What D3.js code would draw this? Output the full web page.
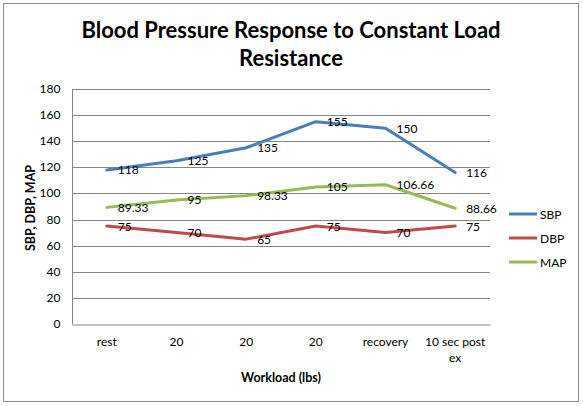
<!DOCTYPE html>
<html><head><meta charset="utf-8">
<script src="https://cdn.jsdelivr.net/npm/d3@7"></script>
<style>body{margin:0;background:#fff}svg{display:block}text{font-family:Lato,"Open Sans",sans-serif;fill:#000}</style>
</head><body><svg id="c" width="583" height="406"></svg>
<script>
const categories = ["rest", "20", "20", "20", "recovery", "10 sec post ex"];
const sbp = [118, 125, 135, 155, 150, 116];
const dbp = [75, 70, 65, 75, 70, 75];
const map = [89.33, 95, 98.33, 105, 106.66, 88.66];
const seriesNames = ["SBP", "DBP", "MAP"];
const seriesColors = ["#4a7ebb", "#be4b48", "#98b954"];
const yTicks = [0, 20, 40, 60, 80, 100, 120, 140, 160, 180];

const series = [sbp, dbp, map].map((v, i) => ({name: seriesNames[i], color: seriesColors[i], values: v}));
const svg = d3.select("#c");
svg.append("rect").attr("x", 3.5).attr("y", 3.5).attr("width", 575).attr("height", 398)
  .attr("fill", "#fff").attr("stroke", "#8c8c8c").attr("stroke-width", 1);

const m = {l: 72, r: 490, t: 89, b: 324};
const x = d3.scaleBand().domain(d3.range(categories.length)).range([m.l, m.r]);
const y = d3.scaleLinear().domain([0, 180]).range([m.b, m.t]);

// gridlines
svg.append("g").selectAll("line").data(yTicks.filter(d => d > 0)).join("line")
  .attr("x1", m.l).attr("x2", m.r).attr("y1", d => Math.round(y(d)) + 0.5).attr("y2", d => Math.round(y(d)) + 0.5)
  .attr("stroke", "#868686").attr("stroke-width", 1);

// y axis
const ya = svg.append("g").attr("transform", `translate(${m.l + 0.5},0)`)
  .call(d3.axisLeft(y).tickValues(yTicks).tickSize(0).tickPadding(12).tickFormat(d3.format("d")));
ya.select(".domain").attr("stroke", "#868686").attr("d", `M0,${m.t}V${m.b + 0.5}`);
ya.selectAll(".tick line").remove();
ya.selectAll("text").style("font-size", "12px").style("font-family", "Lato, sans-serif").attr("fill", "#000");
ya.selectAll(".tick").attr("transform", d => `translate(0,${Math.round(y(d)) + 0.5})`);

// x axis
const xa = svg.append("g").attr("transform", `translate(0,${m.b + 0.5})`)
  .call(d3.axisBottom(x).tickSize(0).tickFormat(""));
xa.select(".domain").attr("stroke", "#868686");
xa.selectAll(".tick line").remove();
const wrapLines = c => c === "10 sec post ex" ? ["10 sec post", "ex"] : [c];
const xl = svg.append("g").selectAll("text").data(categories).join("text")
  .attr("x", (d, i) => x(i) + x.bandwidth() / 2).attr("y", 346)
  .attr("text-anchor", "middle").style("font-size", "12px");
xl.each(function(d) {
  const t = d3.select(this);
  wrapLines(d).forEach((s, k) => t.append("tspan").attr("x", t.attr("x")).attr("dy", k ? 16 : 0).text(s));
});

// lines
const line = d3.line().x((d, i) => x(i) + x.bandwidth() / 2).y(d => y(d));
svg.append("g").selectAll("path").data(series).join("path")
  .attr("d", s => line(s.values)).attr("fill", "none").attr("stroke", s => s.color)
  .attr("stroke-width", 3).attr("stroke-linejoin", "round").attr("stroke-linecap", "round");

// data labels
series.forEach(s => {
  svg.append("g").selectAll("text").data(s.values).join("text")
    .attr("x", (d, i) => x(i) + x.bandwidth() / 2 + 11).attr("y", d => y(d) + 4.5)
    .style("font-size", "12px").text(d => String(d));
});

// titles
const title = svg.append("text").attr("x", 291).attr("y", 38).attr("text-anchor", "middle")
  .style("font-size", "22px").style("font-weight", "bold");
title.append("tspan").attr("x", 291).text("Blood Pressure Response to Constant Load");
title.append("tspan").attr("x", 291).attr("dy", 28).text("Resistance");

svg.append("text").attr("x", 281).attr("y", 382).attr("text-anchor", "middle")
  .style("font-size", "12.5px").style("font-weight", "bold").text("Workload (lbs)");
svg.append("text").attr("transform", `translate(35,208) rotate(-90)`).attr("text-anchor", "middle")
  .style("font-size", "12.5px").style("font-weight", "bold").text("SBP, DBP, MAP");

// legend
const lg = svg.append("g").selectAll("g").data(series).join("g")
  .attr("transform", (d, i) => `translate(509,${214 + i * 24})`);
lg.append("line").attr("x1", 0).attr("x2", 28).attr("stroke", d => d.color).attr("stroke-width", 3);
lg.append("text").attr("x", 31).attr("y", 4.5).style("font-size", "12px").text(d => d.name);
</script></body></html>
